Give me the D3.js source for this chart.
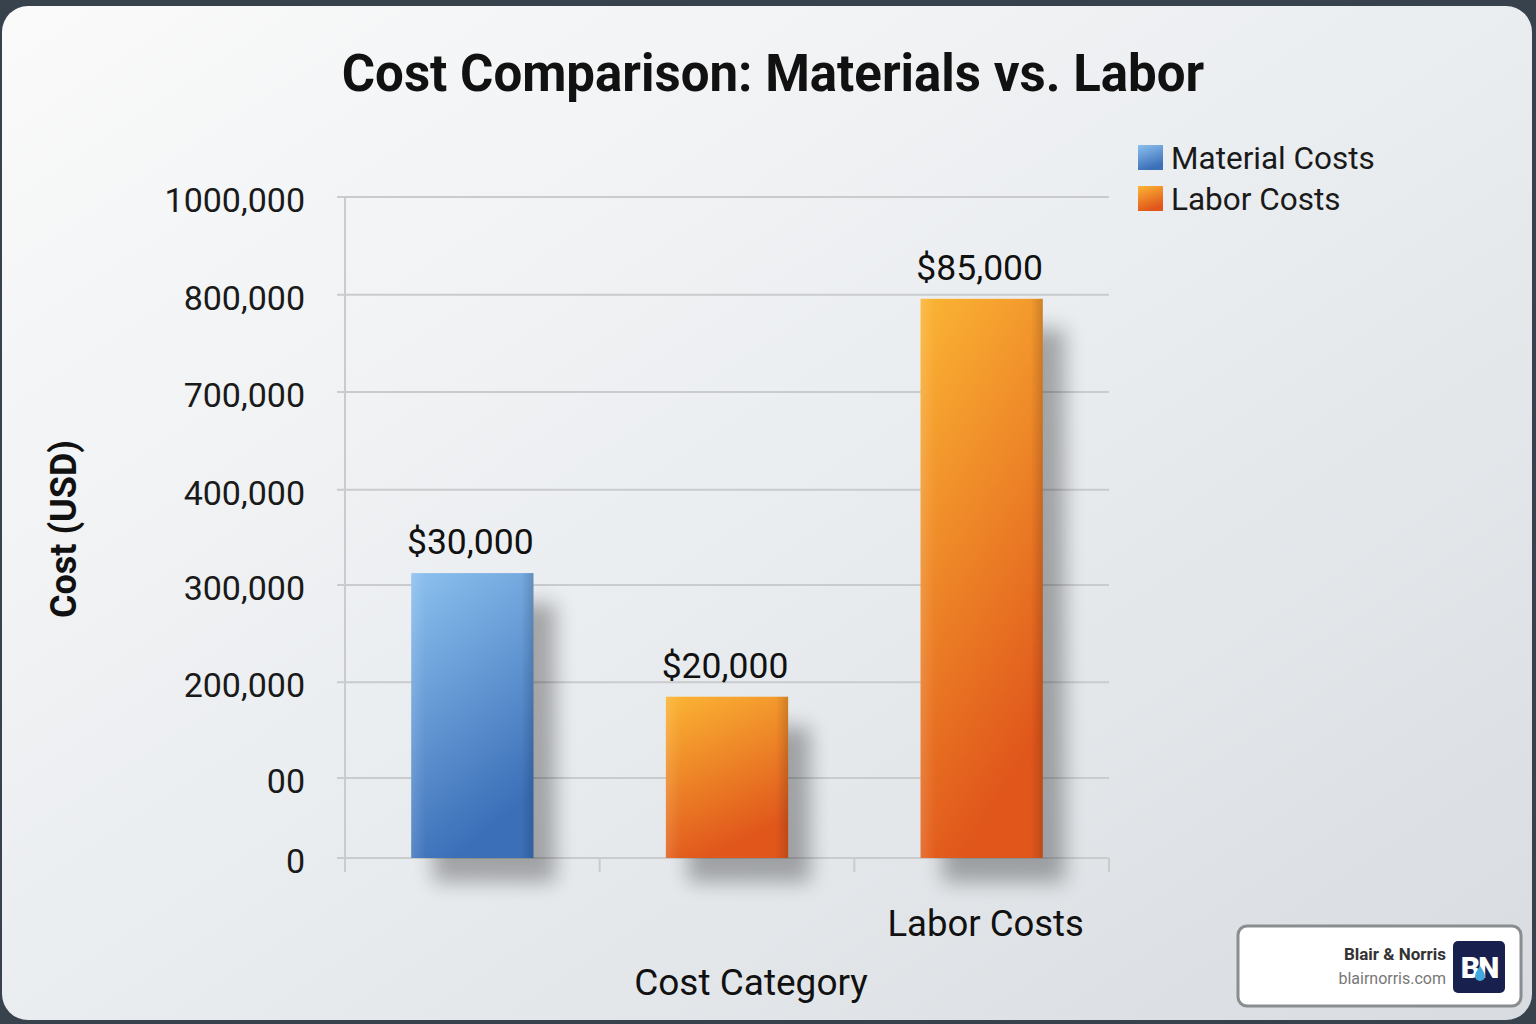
<!DOCTYPE html>
<html>
<head>
<meta charset="utf-8">
<script src="https://cdn.jsdelivr.net/npm/d3@7"></script>
<style>
  html, body { margin: 0; padding: 0; background: #38424d; }
  svg { display: block; font-family: Roboto, "Noto Sans", sans-serif; }
</style>
</head>
<body>
<div id="chart"></div>
<script>
// chart data
const categories = ["a", "b", "c"];
const categoryLabels = ["", "", "Labor Costs"];
const series = ["Material Costs", "Labor Costs", "Labor Costs"]; // series of each bar
const barValues = [431000, 244000, 846000]; // in axis units
const barLabels = ["$30,000", "$20,000", "$85,000"];
const tickValues = [0, 121000, 266000, 413000, 557000, 705000, 852000, 1000000];
const tickLabels = ["0", "00", "200,000", "300,000", "400,000", "700,000", "800,000", "1000,000"];
const legendItems = ["Material Costs", "Labor Costs"];

const W = 1536, H = 1024;
const margin = {top: 197, right: 427, bottom: 166, left: 345};

const svg = d3.select("#chart").append("svg")
  .attr("width", W)
  .attr("height", H);

const defs = svg.append("defs");

// panel background
let bg = defs.append("linearGradient").attr("id", "bg")
  .attr("x1", 0).attr("y1", 0).attr("x2", 1).attr("y2", 1);
bg.append("stop").attr("offset", "0%").attr("stop-color", "#fafafa");
bg.append("stop").attr("offset", "50%").attr("stop-color", "#eaedf0");
bg.append("stop").attr("offset", "100%").attr("stop-color", "#d8dce0");

// bar gradients
function barGradient(id, c1, c2) {
  let g = defs.append("linearGradient").attr("id", id)
    .attr("x1", 0).attr("y1", 0).attr("x2", 0.35).attr("y2", 1);
  g.append("stop").attr("offset", "0%").attr("stop-color", c1);
  g.append("stop").attr("offset", "100%").attr("stop-color", c2);
}
barGradient("g-material", "#8cc1ef", "#3b6fb8");
barGradient("g-labor", "#fbb534", "#e0561b");

// side shading on the bars
let side = defs.append("linearGradient").attr("id", "side")
  .attr("x1", 0).attr("y1", 0).attr("x2", 1).attr("y2", 0);
side.append("stop").attr("offset", "0%").attr("stop-color", "#fff").attr("stop-opacity", 0.12);
side.append("stop").attr("offset", "12%").attr("stop-color", "#fff").attr("stop-opacity", 0);
side.append("stop").attr("offset", "90%").attr("stop-color", "#000").attr("stop-opacity", 0);
side.append("stop").attr("offset", "100%").attr("stop-color", "#000").attr("stop-opacity", 0.15);

let shadow = defs.append("filter").attr("id", "shadow")
  .attr("x", "-50%").attr("y", "-20%").attr("width", "200%").attr("height", "150%");
shadow.append("feGaussianBlur").attr("stdDeviation", 10);

const gradOf = {"Material Costs": "url(#g-material)", "Labor Costs": "url(#g-labor)"};

// panel
svg.append("rect")
  .attr("x", 2).attr("y", 6)
  .attr("width", 1530).attr("height", 1014)
  .attr("rx", 26)
  .attr("fill", "url(#bg)");

// title
svg.append("text")
  .attr("x", 773).attr("y", 91)
  .attr("text-anchor", "middle")
  .attr("font-size", 51).attr("font-weight", "bold")
  .attr("fill", "#111")
  .text("Cost Comparison: Materials vs. Labor");

const width = W - margin.left - margin.right;
const height = H - margin.top - margin.bottom;

const x = d3.scaleBand()
  .domain(categories)
  .range([margin.left, margin.left + width])
  .paddingInner(0.52).paddingOuter(0.26);

const y = d3.scaleLinear()
  .domain([0, 1000000])
  .range([margin.top + height, margin.top]);

// gridlines
svg.append("g")
  .selectAll("line")
  .data(tickValues)
  .join("line")
  .attr("x1", margin.left - 8)
  .attr("x2", margin.left + width)
  .attr("y1", d => y(d))
  .attr("y2", d => y(d))
  .attr("stroke", "#c9cbcd")
  .attr("stroke-width", 2);

// y axis line
svg.append("line")
  .attr("x1", margin.left).attr("x2", margin.left)
  .attr("y1", y(1000000)).attr("y2", y(0) + 14)
  .attr("stroke", "#c9cbcd").attr("stroke-width", 2);

// x ticks at band edges
const edges = d3.range(categories.length + 1).map(i => margin.left + i * (width / categories.length));
svg.append("g")
  .selectAll("line")
  .data(edges.slice(1))
  .join("line")
  .attr("x1", d => d).attr("x2", d => d)
  .attr("y1", y(0)).attr("y2", y(0) + 14)
  .attr("stroke", "#c9cbcd").attr("stroke-width", 2);

// y tick labels
svg.append("g")
  .selectAll("text")
  .data(tickValues)
  .join("text")
  .attr("x", 305)
  .attr("y", d => y(d))
  .attr("dy", "0.44em")
  .attr("text-anchor", "end")
  .attr("font-size", 34)
  .attr("fill", "#1a1a1a")
  .text((d, i) => tickLabels[i]);

// bar shadows
svg.append("g")
  .selectAll("rect")
  .data(categories)
  .join("rect")
  .attr("x", d => x(d) + 22)
  .attr("y", (d, i) => y(barValues[i]) + 30)
  .attr("width", x.bandwidth())
  .attr("height", (d, i) => y(0) - y(barValues[i]) - 6)
  .attr("fill", "#000")
  .attr("opacity", 0.3)
  .attr("filter", "url(#shadow)");

// bars
const bars = svg.append("g")
  .selectAll("g")
  .data(categories)
  .join("g");

bars.append("rect")
  .attr("x", d => x(d))
  .attr("y", (d, i) => y(barValues[i]))
  .attr("width", x.bandwidth())
  .attr("height", (d, i) => y(0) - y(barValues[i]))
  .attr("fill", (d, i) => gradOf[series[i]]);

bars.append("rect")
  .attr("x", d => x(d))
  .attr("y", (d, i) => y(barValues[i]))
  .attr("width", x.bandwidth())
  .attr("height", (d, i) => y(0) - y(barValues[i]))
  .attr("fill", "url(#side)");

// value labels
svg.append("g")
  .selectAll("text")
  .data(categories)
  .join("text")
  .attr("x", d => x(d) + x.bandwidth() / 2 - 2)
  .attr("y", (d, i) => y(barValues[i]) - 19)
  .attr("text-anchor", "middle")
  .attr("font-size", 35.5)
  .attr("fill", "#111")
  .text((d, i) => barLabels[i]);

// category labels
svg.append("g")
  .selectAll("text")
  .data(categories)
  .join("text")
  .attr("x", d => x(d) + x.bandwidth() / 2 + 4)
  .attr("y", 936)
  .attr("text-anchor", "middle")
  .attr("font-size", 36.5)
  .attr("fill", "#111")
  .text((d, i) => categoryLabels[i]);

// axis titles
svg.append("text")
  .attr("x", 751).attr("y", 995)
  .attr("text-anchor", "middle")
  .attr("font-size", 37)
  .attr("fill", "#111")
  .text("Cost Category");

svg.append("text")
  .attr("transform", "translate(76,529) rotate(-90)")
  .attr("text-anchor", "middle")
  .attr("font-size", 36).attr("font-weight", "bold")
  .attr("fill", "#111")
  .text("Cost (USD)");

// legend
const legend = svg.append("g")
  .selectAll("g")
  .data(legendItems)
  .join("g")
  .attr("transform", (d, i) => `translate(1138,${145 + i * 41})`);

legend.append("rect")
  .attr("width", 25).attr("height", 25)
  .attr("fill", d => gradOf[d]);

legend.append("text")
  .attr("x", 33).attr("y", 12.5)
  .attr("dy", "0.36em")
  .attr("font-size", 31.5)
  .attr("fill", "#1a1a1a")
  .text(d => d);

// watermark box
const wm = svg.append("g");
wm.append("rect")
  .attr("x", 1238).attr("y", 926)
  .attr("width", 283).attr("height", 80)
  .attr("rx", 9)
  .attr("fill", "#fff")
  .attr("stroke", "#8a8d90").attr("stroke-width", 3);
wm.append("text")
  .attr("x", 1446).attr("y", 960)
  .attr("text-anchor", "end")
  .attr("font-size", 17).attr("font-weight", "bold")
  .attr("fill", "#333")
  .text("Blair & Norris");
wm.append("text")
  .attr("x", 1446).attr("y", 984)
  .attr("text-anchor", "end")
  .attr("font-size", 16)
  .attr("fill", "#777")
  .text("blairnorris.com");
wm.append("rect")
  .attr("x", 1453).attr("y", 941)
  .attr("width", 52).attr("height", 52)
  .attr("rx", 5)
  .attr("fill", "#18214d");
wm.append("text")
  .attr("x", 1479).attr("y", 978)
  .attr("text-anchor", "middle")
  .attr("font-size", 30).attr("font-weight", "900")
  .attr("letter-spacing", -2)
  .attr("fill", "#fff")
  .text("BN");
wm.append("path")
  .attr("d", "M1480,966 q-5,7 -5,10 a5,5 0 0 0 10,0 q0,-3 -5,-10z")
  .attr("fill", "#3fa9e0");
</script>
</body>
</html>
